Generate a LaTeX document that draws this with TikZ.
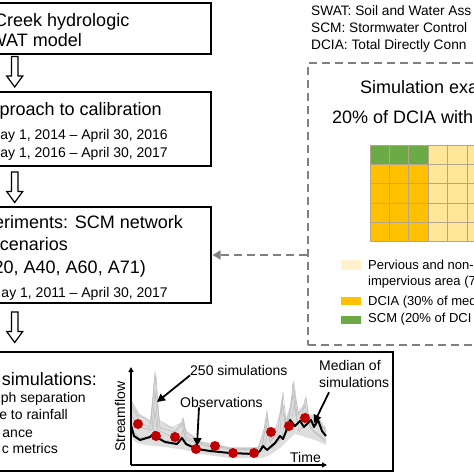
\documentclass[tikz,border=0pt]{standalone}
\usepackage{fontspec}
\setmainfont{Liberation Sans}
\usetikzlibrary{arrows.meta}

\definecolor{scmgreen}{HTML}{6CAA45}
\definecolor{dciaorange}{HTML}{FFC000}
\definecolor{pervyellow}{HTML}{FFE699}
\definecolor{pervlight}{HTML}{FFF2CC}
\definecolor{cellgrid}{HTML}{B3A68A}
\definecolor{dashgray}{HTML}{808080}
\definecolor{obsred}{HTML}{C00000}

\newcommand\bigtxt{\fontsize{18}{21}\selectfont}
\newcommand\midtxt{\fontsize{14}{17}\selectfont}
\newcommand\keytxt{\fontsize{13.7}{16}\selectfont}
\newcommand\legtxt{\fontsize{13}{15}\selectfont}

\tikzset{
  stagebox/.style={draw, line width=2.5pt, inner sep=0pt, outer sep=0pt},
  txt/.style={inner sep=0pt, anchor=base east},
  ltxt/.style={inner sep=0pt, anchor=base west},
  simbox/.style={draw=dashgray, line width=1.5pt, dash pattern=on 8pt off 5pt, inner sep=0pt},
  linkarrow/.style={dashgray, line width=1.5pt, dash pattern=on 8pt off 5pt, -{Triangle[length=8pt,width=9pt]}},
  callout/.style={line width=1.8pt, -{Triangle[length=8pt,width=8pt]}},
  axisline/.style={line width=1.3pt, -{Triangle[length=5pt,width=5pt]}},
  cellline/.style={cellgrid, line width=0.7pt},
  simline/.style={black!25, line width=0.6pt, line join=round},
  medianline/.style={line width=2pt, line join=round},
  pics/downarrow/.style={code={
    \draw[line width=1.2pt, fill=white] (-3.3,0) -- (3.3,0) -- (3.3,19.5) -- (8,19.5) -- (0,30.5) -- (-8,19.5) -- (-3.3,19.5) -- cycle;}}
}

\begin{document}
\begin{tikzpicture}[x=1pt, y=-1pt]
\useasboundingbox (0,0) rectangle (474,474);

% workflow boxes
\node[stagebox, minimum width=221pt, minimum height=51pt] (modelbox) at (100.5,28.5) {};
\node[txt, font=\bigtxt] (model1) at (129.5,26) {Creek hydrologic};
\node[txt, font=\bigtxt] (model2) at (82,46) {WAT model};

\pic (arA) at (14.7,56.5) {downarrow};

\node[stagebox, minimum width=221pt, minimum height=74pt] (calibbox) at (100.5,129) {};
\node[txt, font=\bigtxt] (calib1) at (162,115) {proach to calibration};
\node[txt, font=\midtxt] (calib2) at (168,139) {ay 1, 2014 \textendash{} April 30, 2016};
\node[txt, font=\midtxt] (calib3) at (168,157) {ay 1, 2016 \textendash{} April 30, 2017};

\pic (arB) at (14.7,172) {downarrow};

\node[stagebox, minimum width=221pt, minimum height=96pt] (scenbox) at (100.5,255) {};
\node[txt, font=\bigtxt] (scen1) at (183,228) {eriments: SCM network};
\node[txt, font=\bigtxt] (scen2) at (68,250) {cenarios};
\node[txt, font=\bigtxt] (scen3) at (146,273) {20, A40, A60, A71)};
\node[txt, font=\midtxt] (scen4) at (168,297) {ay 1, 2011 \textendash{} April 30, 2017};

\pic (arC) at (14.7,312) {downarrow};

\node[stagebox, minimum width=403pt, minimum height=119pt] (evalbox) at (191.5,411.5) {};
\node[txt, font=\bigtxt] (eval1) at (97,385) {simulations:};
\node[txt, font=\midtxt] (eval2) at (86,402) {ph separation};
\node[txt, font=\midtxt] (eval3) at (68,419) {e to rainfall};
\node[txt, font=\midtxt] (eval4) at (33,437) {ance};
\node[txt, font=\midtxt] (eval5) at (58,453) {c metrics};

% abbreviations
\node[ltxt, font=\keytxt] (swat) at (311,15) {SWAT: Soil and Water Ass};
\node[ltxt, font=\keytxt] (scm) at (311,32) {SCM: Stormwater Control};
\node[ltxt, font=\keytxt] (dcia) at (311,49) {DCIA: Total Directly Conn};

% simulation example
\node[simbox, minimum width=182pt, minimum height=282pt] (simarea) at (399,204) {};
\node[ltxt, font=\bigtxt] (simtitle) at (360,93) {Simulation exa};
\node[ltxt, font=\bigtxt] (simsub) at (332,123) {20\% of DCIA with};

\fill[pervyellow] (370,145) rectangle (564,241.5);
\fill[dciaorange] (370,164.3) rectangle (428.2,241.5);
\fill[scmgreen] (370,145) rectangle (428.2,164.3);
\foreach \i in {0,...,10}
  \draw[cellline] ({370+19.4*\i},145) -- ({370+19.4*\i},241.5);
\foreach \j in {0,...,5}
  \draw[cellline] (370,{145+19.3*\j}) -- (564,{145+19.3*\j});

\fill[pervlight] (341,260) rectangle (361,270);
\node[ltxt, font=\legtxt] (legperv1) at (368,269) {Pervious and non-};
\node[ltxt, font=\legtxt] (legperv2) at (368,285) {impervious area (7};
\fill[dciaorange] (341,297) rectangle (361,305);
\node[ltxt, font=\legtxt] (legdcia) at (368,305) {DCIA (30\% of med};
\fill[scmgreen] (341,316) rectangle (361,323.5);
\node[ltxt, font=\legtxt] (legscm) at (368,322.7) {SCM (20\% of DCI};

\draw[linkarrow, shorten >=1.5pt] (simarea.west |- scenbox.east) -- (scenbox.east);

% streamflow plot
\coordinate (orig) at (131,465);
\coordinate (ytop) at (131,367);
\coordinate (xend) at (327,465);

\fill[black!13] (131,400) -- (140,414) -- (150,420) -- (153,395) -- (155,370) -- (157,398) -- (160,422) -- (175,428) -- (181,423) -- (183,416) -- (186,430) -- (200,441) -- (230,447) -- (258,447) -- (264,428) -- (267,408) -- (270,432) -- (278,425) -- (282,395) -- (285,420) -- (290,408) -- (294,378) -- (298,412) -- (303,405) -- (306,395) -- (309,414) -- (318,416) -- (326,428)
  -- (326,445) -- (315,440) -- (305,437) -- (295,434) -- (288,440) -- (280,448) -- (270,455) -- (262,458) -- (230,458) -- (200,454) -- (185,450) -- (165,447) -- (145,445) -- (135,442) -- (131,436) -- cycle;
\draw[simline] (131,405) -- (140,422) -- (150,428) -- (153,395) -- (155,372) -- (157,398) -- (160,428) -- (175,432) -- (181,425) -- (183,418) -- (186,432) -- (200,442) -- (230,448) -- (258,449) -- (264,430) -- (267,412) -- (270,438) -- (278,430) -- (282,400) -- (285,428) -- (290,415) -- (293,382) -- (297,415) -- (303,408) -- (306,398) -- (309,418) -- (318,418) -- (326,432);
\draw[simline] (131,415) -- (142,428) -- (152,430) -- (155,390) -- (158,430) -- (170,436) -- (182,424) -- (185,437) -- (205,445) -- (240,450) -- (262,448) -- (266,425) -- (270,442) -- (280,432) -- (283,392) -- (287,432) -- (293,395) -- (298,425) -- (305,405) -- (310,428) -- (326,440);
\draw[simline] (131,430) -- (140,438) -- (153,435) -- (155,410) -- (158,440) -- (180,442) -- (183,430) -- (187,446) -- (220,452) -- (255,455) -- (265,445) -- (268,430) -- (272,448) -- (282,438) -- (285,418) -- (290,430) -- (294,405) -- (299,432) -- (307,420) -- (314,432) -- (326,442);
\draw[simline] (131,400) -- (138,415) -- (145,418) -- (151,424) -- (154,385) -- (156,376) -- (159,420) -- (172,428) -- (183,422) -- (187,440) -- (210,447) -- (245,450) -- (262,446) -- (267,418) -- (272,440) -- (283,405) -- (286,425) -- (294,390) -- (300,420) -- (306,412) -- (312,424) -- (326,428);

\draw[medianline] (131,425) -- (134,436) -- (140,440) -- (150,437) -- (155,432) -- (158,438) -- (165,442) -- (177,444) -- (182,438) -- (186,444) -- (197,449) -- (210,451) -- (230,453) -- (254,454) -- (260,451) -- (263,446) -- (267,450) -- (275,443) -- (280,436) -- (283,439) -- (287,429) -- (290,420) -- (295,426) -- (300,421) -- (304,427) -- (308,423) -- (311,420) -- (314,427) -- (318,420) -- (322,431) -- (326,436);

\foreach \px/\py in {138/424, 156/436, 175/437, 196/449, 215/446, 233/453, 254/453, 271/432, 289/426, 305/418}
  \fill[obsred] (\px,\py) circle (5);

\draw[axisline] (orig) -- (ytop);
\draw[axisline] (orig) -- (xend);
\node[ltxt, font=\midtxt, rotate=90] (flowlab) at (125,452) {Streamflow};
\node[ltxt, font=\midtxt] (timelab) at (290,462.5) {Time};

\node[ltxt, font=\midtxt] (simcount) at (190,375) {250 simulations};
\coordinate (spike) at (157,402);
\draw[callout] (simcount.south west) -- (spike);

\node[ltxt, font=\midtxt] (obslab) at (180,407) {Observations};
\coordinate (obspt) at (197,446);
\draw[callout] ([xshift=19pt]obslab.south west) -- (obspt);

\node[ltxt, font=\midtxt] (medA) at (319,370) {Median of};
\node[ltxt, font=\midtxt] (medB) at (319,387) {simulations};
\coordinate (medpt) at (314,423);
\draw[callout] ([xshift=10pt,yshift=-5pt]medB.south west) -- (medpt);
\end{tikzpicture}
\end{document}
